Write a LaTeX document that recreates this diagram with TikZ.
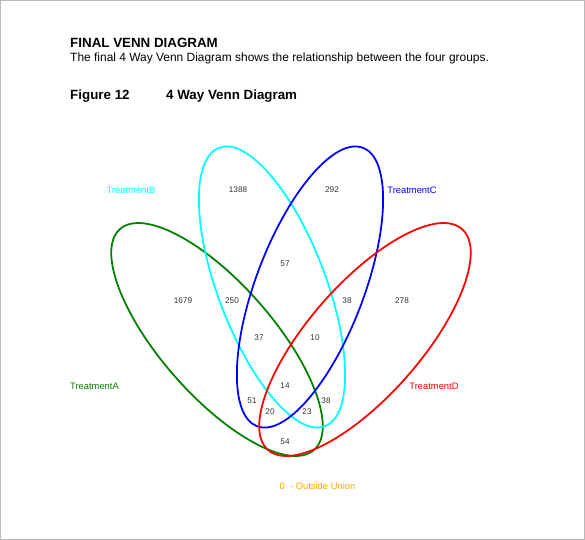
\documentclass[tikz,border=0pt]{standalone}
\usepackage{fontspec}
\setmainfont{Liberation Sans}
\usepackage{xcolor}
\definecolor{setgreen}{RGB}{0, 128, 0}
\definecolor{setcyan}{RGB}{0, 255, 255}
\definecolor{setblue}{RGB}{0, 0, 255}
\definecolor{setred}{RGB}{255, 0, 0}
\definecolor{outsideorange}{RGB}{255, 165, 0}
\definecolor{countgrey}{RGB}{51, 51, 51}
\definecolor{framegrey}{RGB}{185, 185, 185}
\usetikzlibrary{positioning}

\begin{document}
\begin{tikzpicture}[x=0.03cm, y=-0.03cm,
    setline/.style={line width=1.5pt},
    count/.style={countgrey, font=\fontsize{7}{8}\selectfont, inner sep=0pt},
    setname/.style={font=\fontsize{8}{9}\selectfont, inner sep=0pt},
    heading/.style={anchor=base west, inner sep=0pt}]
    \useasboundingbox (0,0) rectangle (585,540);
    \draw[framegrey, line width=0.9pt] (0.6,0.6) rectangle (584.4,539.4);

    % headings
    \node[heading, font=\bfseries\fontsize{11.4}{13}\selectfont] (title) at (70,48) {FINAL VENN DIAGRAM};
    \node[heading, font=\fontsize{10.2}{12}\selectfont] (intro) at (70,61.5) {The final 4 Way Venn Diagram shows the relationship between the four groups.};
    \node[heading, font=\bfseries\fontsize{11.4}{13}\selectfont] (fig) at (70,100) {Figure 12};
    \node[heading, font=\bfseries\fontsize{11.4}{13}\selectfont] (figtitle) at (166,100) {4 Way Venn Diagram};

    % the four sets
    \coordinate (A) at (217, 339.5);
    \coordinate (B) at (272, 287);
    \coordinate (C) at (310, 287);
    \coordinate (D) at (365, 339.5);
    \draw[setline, setgreen, rotate around={131.3:(A)}] (A) ellipse (147 and 56);
    \draw[setline, setcyan, rotate around={110.8:(B)}] (B) ellipse (149 and 54);
    \draw[setline, setblue, rotate around={69.2:(C)}] (C) ellipse (149 and 54);
    \draw[setline, setred, rotate around={48.7:(D)}] (D) ellipse (147 and 56);

    \node[setname, setgreen] (nameA) at (94.5,386) {TreatmentA};
    \node[setname, setcyan] (nameB) at (131,190) {TreatmentB};
    \node[setname, setblue] (nameC) at (412,190) {TreatmentC};
    \node[setname, setred] (nameD) at (434,386) {TreatmentD};

    % region counts
    \node[count] (nB) at (238,190) {1388};
    \node[count] (nC) at (332,190) {292};
    \node[count] (nBC) at (285,264) {57};
    \node[count] (nA) at (183,301) {1679};
    \node[count] (nAB) at (232,301) {250};
    \node[count] (nCD) at (347,301) {38};
    \node[count] (nD) at (402,301) {278};
    \node[count] (nABC) at (259,338) {37};
    \node[count] (nBCD) at (315,338) {10};
    \node[count] (nABCD) at (285,386) {14};
    \node[count] (nAC) at (252,401) {51};
    \node[count] (nBD) at (326,401) {38};
    \node[count] (nACD) at (270,412) {20};
    \node[count] (nABD) at (307,412) {23};
    \node[count] (nAD) at (285,442) {54};

    \node[setname, outsideorange] (outside) at (317.5,486) {0\ \ - Outside Union};
\end{tikzpicture}
\end{document}
